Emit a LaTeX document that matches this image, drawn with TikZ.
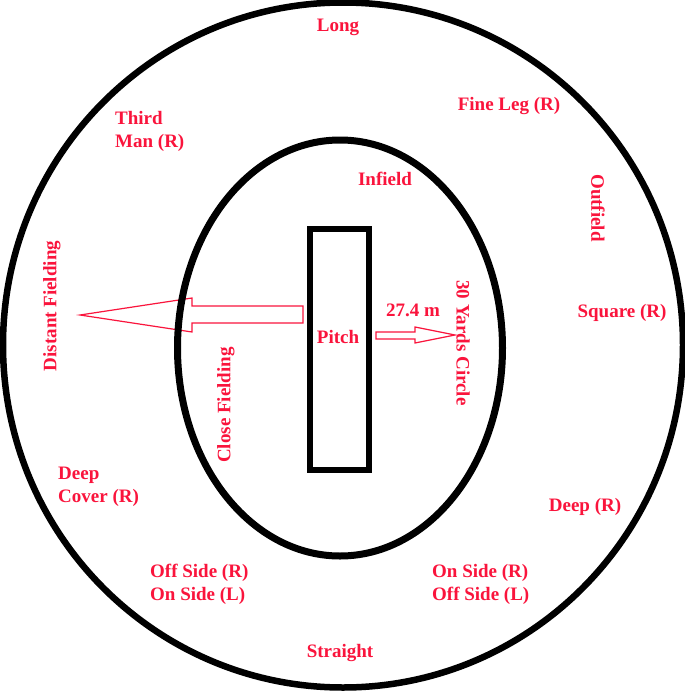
\documentclass[tikz,border=0pt]{standalone}
\usepackage{fontspec}
\setmainfont{Liberation Serif}
\usetikzlibrary{shapes.geometric}
\definecolor{lblred}{RGB}{250,20,60}
\tikzset{
  lbl/.style={text=lblred, font=\fontsize{19}{23}\selectfont\bfseries, inner sep=0pt},
  lbll/.style={lbl, anchor=west, align=left},
  ring/.style={draw=black, ellipse, inner sep=0pt},
  redarrow/.style={draw=lblred, line width=1.2pt, line join=miter, fill=white},
}
\begin{document}
\begin{tikzpicture}[x=1pt,y=-1pt]
\useasboundingbox (0,0) rectangle (685,691);
\fill[white] (0,0) rectangle (685,691);
% arrows (beneath the rings)
\draw[redarrow] (303,306) -- (192,306) -- (192,298) -- (80,315) -- (192,332) -- (192,323) -- (303,323) -- cycle;
\draw[redarrow] (376,332) -- (415,332) -- (415,327) -- (455,335) -- (415,343) -- (415,339) -- (376,339) -- cycle;
% rings
\node[ring, line width=6.5pt, minimum width=680pt, minimum height=685pt] (outer) at (343,345) {};
\node[ring, line width=7pt, minimum width=325pt, minimum height=416pt] (inner) at (340,348) {};
% pitch
\node[draw=black, line width=6pt, minimum width=59pt, minimum height=241pt, inner sep=0pt] (pitchbox) at (339.5,349.5) {};
\node[lbl] (pitch) at (338,337) {Pitch};
% labels
\node[lbl] (long) at (338,27) {Long};
\node[lbll] (third) at (115,131) {Third\\Man (R)};
\node[lbl] (fineleg) at (509,106) {Fine Leg (R)};
\node[lbl] (infield) at (385,179) {Infield};
\node[lbl, rotate=-90] (outfield) at (598,208) {Outfield};
\node[lbl] (square) at (622,313) {Square (R)};
\node[lbl] (deep) at (585,507) {Deep (R)};
\node[lbl, rotate=-90] (yards) at (463,343) {30 Yards Circle};
\node[lbl] (dist) at (413,310) {27.4 m};
\node[lbl, rotate=90] (distant) at (52,306) {Distant Fielding};
\node[lbl, rotate=90] (close) at (226,405) {Close Fielding};
\node[lbll] (deepcover) at (58,487) {Deep\\Cover (R)};
\node[lbll] (offside) at (150,584) {Off Side (R)\\On Side (L)};
\node[lbll] (onside) at (432,584) {On Side (R)\\Off Side (L)};
\node[lbl] (straight) at (340,653) {Straight};
\end{tikzpicture}
\end{document}
